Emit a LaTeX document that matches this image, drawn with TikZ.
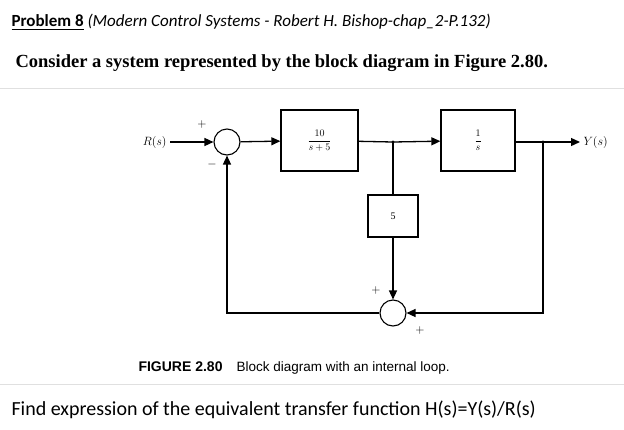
\documentclass[tikz,border=0pt]{standalone}
\usepackage{amsmath}
\usepackage{fontspec}
\setmainfont{Liberation Serif}
\newfontfamily\carl{Carlito}
\newfontfamily\arl{Liberation Sans}
\usetikzlibrary{arrows.meta}
\begin{document}
\begin{tikzpicture}[x=1pt,y=-1pt,
  blk/.style={draw,line width=1.3pt,minimum width=#1,minimum height=61pt,inner sep=0pt},
  sum/.style={draw,circle,line width=1.1pt,minimum size=26pt,inner sep=0pt},
  sig/.style={line width=1.3pt,-{Triangle[length=9pt,width=8pt]}},
  ln/.style={line width=1.3pt},
  lab/.style={font=\fontsize{13}{13}\selectfont}]
\useasboundingbox (0,0) rectangle (624,429);
% header texts
\node[anchor=west,font=\carl\fontsize{17}{17}\selectfont] (t1) at (8,22)
  {\underline{\textbf{Problem 8}} \textit{(Modern Control Systems - Robert H. Bishop-chap\_2-P.132)}};
\node[anchor=west,font=\bfseries\fontsize{18.5}{18.5}\selectfont] (t2) at (12,63)
  {Consider a system represented by the block diagram in Figure 2.80.};
\draw[black!12,line width=0.8pt] (0,88) -- (624,88);
% blocks
\node[sum] (s1) at (227,142) {};
\node[blk=77pt] (g1) at (319.5,140.5) {$\dfrac{10}{s+5}$};
\node[blk=74pt] (g2) at (478,140.5) {$\dfrac{1}{s}$};
\node[blk=50pt,minimum height=42pt] (k) at (393,216) {5};
\node[sum] (s2) at (393,313) {};
\coordinate (j1) at (393,142);
\coordinate (j2) at (543,142);
\node[lab,anchor=east] (r) at (170,142) {$R(s)$};
\node[lab,anchor=west] (y) at (580,142) {$Y(s)$};
\draw[sig] (r) -- (s1);
\draw[sig] (s1) -- (g1);
\draw[ln] (g1) -- (j1);
\draw[sig] (j1) -- (g2);
\draw[sig] (g2.east |- j2) -- (y);
\draw[ln] (j1) -- (k);
\draw[sig] (k) -- (s2);
\draw[sig] (j2) |- (s2);
\draw[sig] (s2) -| (s1);
\fill (j1) circle (1.6pt) (j2) circle (1.6pt);
\node[lab] (p1) at (202,124) {$+$};
\node[lab] (m1) at (212,164) {$-$};
\node[lab] (p2) at (376,290) {$+$};
\node[lab] (p3) at (420,330) {$+$};
% caption
\node[anchor=west,font=\arl\bfseries\fontsize{14}{14}\selectfont] (cap) at (135,368)
  {FIGURE 2.80\quad{\mdseries\fontsize{13.5}{13.5}\selectfont Block diagram with an internal loop.}};
\draw[black!12,line width=0.8pt] (0,384) -- (624,384);
\node[anchor=west,font=\carl\fontsize{20}{20}\selectfont] (t3) at (8,410)
  {Find expression of the equivalent transfer function H(s)=Y(s)/R(s)};
\end{tikzpicture}
\end{document}
